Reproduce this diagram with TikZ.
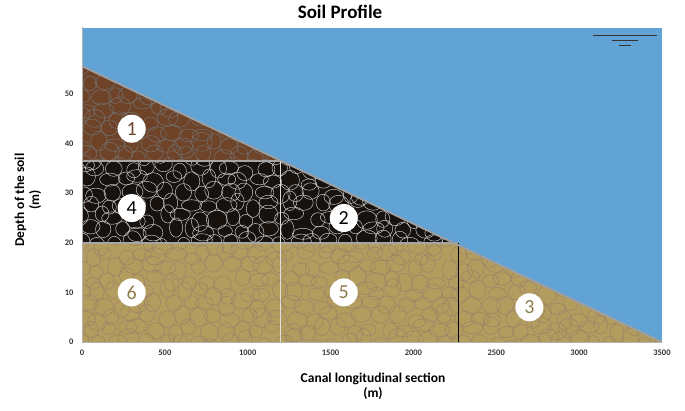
\documentclass[tikz,border=0pt]{standalone}
\usepackage{fontspec}
\setmainfont{Carlito}
\usetikzlibrary{positioning}
\definecolor{water}{HTML}{62A3D6}
\definecolor{brownsoil}{HTML}{6E4328}
\definecolor{darksoil}{HTML}{17120E}
\definecolor{tansoil}{HTML}{B29C5E}
\tikzset{
  layer/.style={circle,fill=white,inner sep=1.5pt,minimum size=28pt,font=\fontsize{20}{20}\selectfont},
  tick/.style={font=\fontsize{8.5}{9}\bfseries\selectfont,text=black!80},
  bound/.style={line width=1.4pt,gray!70},
}
\newcommand{\rocks}[1]{%
  \pgfmathsetseed{#1}
  \foreach \i in {0,...,36}{\foreach \j in {0,...,11}{
    \pgfmathsetmacro{\rx}{\i*100+rand*25}
    \pgfmathsetmacro{\ry}{\j*5+rand*1}
    \pgfmathsetmacro{\ra}{40+rnd*25}
    \pgfmathsetmacro{\rb}{1.2+rnd*0.8}
    \draw[line width=0.5pt] (\rx,\ry) ellipse[x radius=\ra,y radius=\rb];
    \pgfmathsetmacro{\rx}{\i*100+50+rand*25}
    \pgfmathsetmacro{\ry}{\j*5+2.5+rand*1}
    \pgfmathsetmacro{\rb}{1.1+rnd*0.9}
    \draw[line width=0.5pt] (\rx,\ry) ellipse[x radius=\ra,y radius=\rb];
  }}}
\begin{document}
\begin{tikzpicture}[x=1pt,y=-1pt]
\useasboundingbox (0,0) rectangle (685,410);
\fill[water] (82,28) rectangle (662,342);
% soil layers in data units
\begin{scope}[shift={(82,342)},x=0.1657pt,y=4.96pt]
  \fill[brownsoil] (0,55.6) -- (1200,36.5) -- (0,36.5) -- cycle;
  \fill[darksoil] (0,36.5) -- (1200,36.5) -- (2270,19.5) -- (2270,20) -- (0,20) -- cycle;
  \fill[tansoil] (0,0) -- (3500,0) -- (2270,19.5) -- (2270,20) -- (0,20) -- cycle;
  \begin{scope}
    \clip (0,55.6) -- (1200,36.5) -- (0,36.5) -- cycle;
    \begin{scope}[draw=black!55]\rocks{3}\end{scope}
  \end{scope}
  \begin{scope}
    \clip (0,36.5) -- (1200,36.5) -- (2270,19.5) -- (0,20) -- cycle;
    \begin{scope}[draw=gray!45]\rocks{5}\end{scope}
  \end{scope}
  \begin{scope}
    \clip (0,0) -- (3500,0) -- (2270,19.5) -- (2270,20) -- (0,20) -- cycle;
    \begin{scope}[draw=brown!60!black!70]\rocks{7}\end{scope}
  \end{scope}
  \coordinate (top) at (0,55.6);
  \coordinate (toe) at (3500,0);
  \coordinate (a1) at (0,36.5);
  \coordinate (a2) at (1200,36.5);
  \coordinate (b1) at (0,20);
  \coordinate (b2) at (1200,20);
  \coordinate (b3) at (2270,20);
  \coordinate (c1) at (1200,0);
  \coordinate (c3) at (2270,0);
  \draw[bound] (a1) -- (a2);
  \draw[bound] (b1) -- (b3);
  \draw[line width=1.2pt,gray!25] (a2) -- (c1);
  \draw[line width=1.2pt,black] (b3) -- (c3);
  \draw[line width=1.8pt,gray!75] (top) -- (toe);
  \node[layer,text=brownsoil] (l1) at (300,43) {1};
  \node[layer,text=black] (l4) at (300,27) {4};
  \node[layer,text=black] (l2) at (1580,25) {2};
  \node[layer,text=tansoil!80!black] (l6) at (300,10) {6};
  \node[layer,text=tansoil!80!black] (l5) at (1580,10) {5};
  \node[layer,text=tansoil!80!black] (l3) at (2700,7) {3};
  % axes
  \draw[gray!60] (0,0) -- (0,63.5);
  \draw[gray!60] (0,0) -- (3500,0);
  \foreach \v in {0,10,...,50} \node[tick,left=5pt] at (0,\v) {\v};
  \foreach \v in {0,500,...,3500} \node[tick,below=4pt] at (\v,0) {\v};
\end{scope}
% water symbol
\draw[black!80,line width=0.8pt] (593,35) -- (657,35);
\draw[black!80,line width=0.8pt] (612,40) -- (638,40);
\draw[black!80,line width=0.8pt] (619,45) -- (631,45);
\node[font=\fontsize{19}{19}\bfseries\selectfont] (title) at (340,12) {Soil Profile};
\node[font=\fontsize{13.5}{15}\bfseries\selectfont,align=center,rotate=90] (ylab) at (28,200) {Depth of the soil\\(m)};
\node[font=\fontsize{13.5}{15}\bfseries\selectfont,align=center] (xlab) at (373,386) {Canal longitudinal section\\(m)};
\end{tikzpicture}
\end{document}
